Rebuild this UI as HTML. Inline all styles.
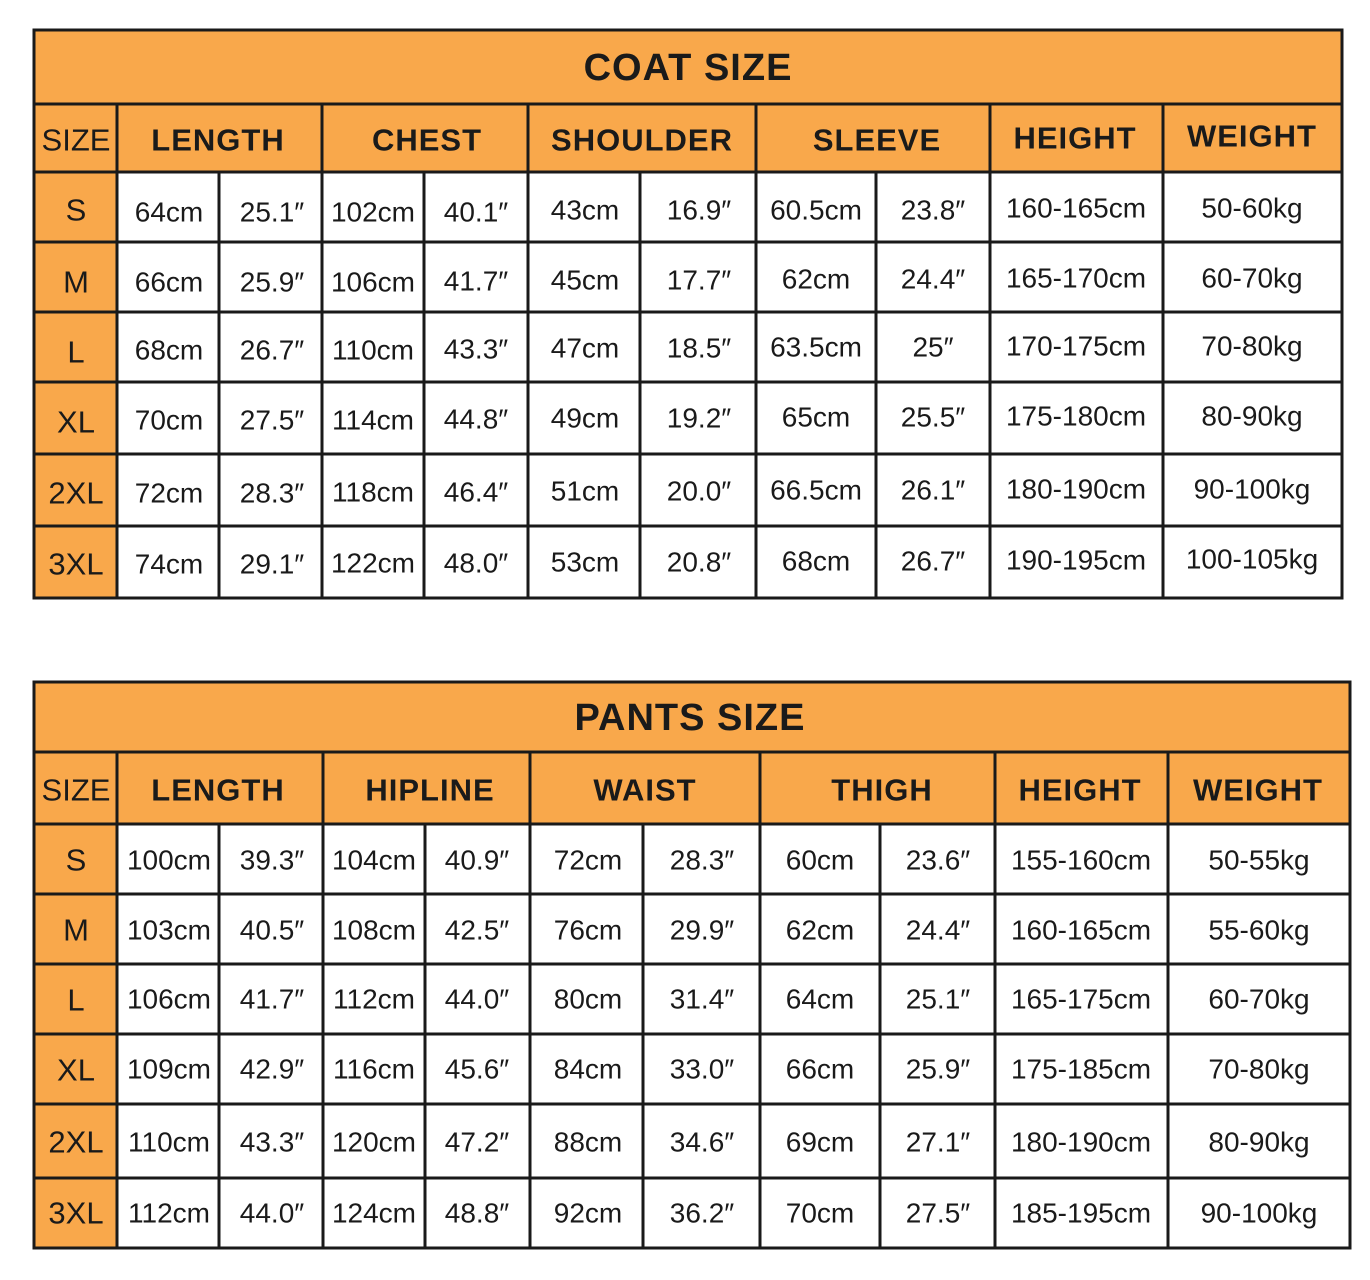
<!DOCTYPE html>
<html><head><meta charset="utf-8"><style>
html,body{margin:0;padding:0;background:#fff;}
svg{display:block}
text{font-family:"Liberation Sans",sans-serif;fill:#1a1a1a;text-anchor:middle;dominant-baseline:central}
.t{font-size:38px;font-weight:bold;letter-spacing:1px}
.h{font-size:31px;font-weight:bold;letter-spacing:1px}
.s{font-size:31px;font-weight:normal}
.d{font-size:28px}
</style></head><body>
<svg width="1370" height="1280" viewBox="0 0 1370 1280">
<g stroke="#1a1a1a" stroke-width="3">
<rect x="34" y="30" width="1308" height="568" fill="#fff"/>
<rect x="34" y="30" width="1308" height="142" fill="#f9a84b"/>
<rect x="34" y="172" width="83" height="426" fill="#f9a84b"/>
<line x1="34" y1="104" x2="1342" y2="104"/>
<line x1="34" y1="172" x2="1342" y2="172"/>
<line x1="34" y1="242" x2="1342" y2="242"/>
<line x1="34" y1="312" x2="1342" y2="312"/>
<line x1="34" y1="382" x2="1342" y2="382"/>
<line x1="34" y1="454" x2="1342" y2="454"/>
<line x1="34" y1="526" x2="1342" y2="526"/>
<line x1="117" y1="104" x2="117" y2="598"/>
<line x1="322" y1="104" x2="322" y2="598"/>
<line x1="528" y1="104" x2="528" y2="598"/>
<line x1="756" y1="104" x2="756" y2="598"/>
<line x1="990" y1="104" x2="990" y2="598"/>
<line x1="1163" y1="104" x2="1163" y2="598"/>
<line x1="219" y1="172" x2="219" y2="598"/>
<line x1="424" y1="172" x2="424" y2="598"/>
<line x1="640" y1="172" x2="640" y2="598"/>
<line x1="876" y1="172" x2="876" y2="598"/>
<rect x="34" y="682" width="1316" height="566" fill="#fff"/>
<rect x="34" y="682" width="1316" height="142" fill="#f9a84b"/>
<rect x="34" y="824" width="83" height="424" fill="#f9a84b"/>
<line x1="34" y1="752" x2="1350" y2="752"/>
<line x1="34" y1="824" x2="1350" y2="824"/>
<line x1="34" y1="894" x2="1350" y2="894"/>
<line x1="34" y1="964" x2="1350" y2="964"/>
<line x1="34" y1="1034" x2="1350" y2="1034"/>
<line x1="34" y1="1104" x2="1350" y2="1104"/>
<line x1="34" y1="1178" x2="1350" y2="1178"/>
<line x1="117" y1="752" x2="117" y2="1248"/>
<line x1="323" y1="752" x2="323" y2="1248"/>
<line x1="530" y1="752" x2="530" y2="1248"/>
<line x1="760" y1="752" x2="760" y2="1248"/>
<line x1="995" y1="752" x2="995" y2="1248"/>
<line x1="1168" y1="752" x2="1168" y2="1248"/>
<line x1="219" y1="824" x2="219" y2="1248"/>
<line x1="425" y1="824" x2="425" y2="1248"/>
<line x1="643" y1="824" x2="643" y2="1248"/>
<line x1="880" y1="824" x2="880" y2="1248"/>
</g>
<text class="t" x="688" y="68">COAT SIZE</text>
<text class="s" x="76" y="140">SIZE</text>
<text class="h" x="218" y="140">LENGTH</text>
<text class="h" x="427" y="140">CHEST</text>
<text class="h" x="642" y="140">SHOULDER</text>
<text class="h" x="877" y="140">SLEEVE</text>
<text class="h" x="1075" y="138">HEIGHT</text>
<text class="h" x="1252" y="136">WEIGHT</text>
<g>
<text class="s" x="76" y="210">S</text><text class="d" x="169" y="212">64cm</text><text class="d" x="272" y="212">25.1″</text><text class="d" x="373" y="212">102cm</text><text class="d" x="476" y="212">40.1″</text><text class="d" x="585" y="210">43cm</text><text class="d" x="699" y="210">16.9″</text><text class="d" x="816" y="210">60.5cm</text><text class="d" x="933" y="210">23.8″</text><text class="d" x="1076" y="208">160-165cm</text><text class="d" x="1252" y="208">50-60kg</text>
<text class="s" x="76" y="282">M</text><text class="d" x="169" y="282">66cm</text><text class="d" x="272" y="282">25.9″</text><text class="d" x="373" y="282">106cm</text><text class="d" x="476" y="281">41.7″</text><text class="d" x="585" y="280">45cm</text><text class="d" x="699" y="280">17.7″</text><text class="d" x="816" y="279">62cm</text><text class="d" x="933" y="279">24.4″</text><text class="d" x="1076" y="278">165-170cm</text><text class="d" x="1252" y="278">60-70kg</text>
<text class="s" x="76" y="352">L</text><text class="d" x="169" y="350">68cm</text><text class="d" x="272" y="350">26.7″</text><text class="d" x="373" y="350">110cm</text><text class="d" x="476" y="349">43.3″</text><text class="d" x="585" y="348">47cm</text><text class="d" x="699" y="348">18.5″</text><text class="d" x="816" y="347">63.5cm</text><text class="d" x="933" y="347">25″</text><text class="d" x="1076" y="346">170-175cm</text><text class="d" x="1252" y="346">70-80kg</text>
<text class="s" x="76" y="422">XL</text><text class="d" x="169" y="420">70cm</text><text class="d" x="272" y="420">27.5″</text><text class="d" x="373" y="420">114cm</text><text class="d" x="476" y="419">44.8″</text><text class="d" x="585" y="418">49cm</text><text class="d" x="699" y="418">19.2″</text><text class="d" x="816" y="417">65cm</text><text class="d" x="933" y="417">25.5″</text><text class="d" x="1076" y="416">175-180cm</text><text class="d" x="1252" y="416">80-90kg</text>
<text class="s" x="76" y="493">2XL</text><text class="d" x="169" y="493">72cm</text><text class="d" x="272" y="493">28.3″</text><text class="d" x="373" y="492">118cm</text><text class="d" x="476" y="492">46.4″</text><text class="d" x="585" y="491">51cm</text><text class="d" x="699" y="491">20.0″</text><text class="d" x="816" y="490">66.5cm</text><text class="d" x="933" y="490">26.1″</text><text class="d" x="1076" y="489">180-190cm</text><text class="d" x="1252" y="489">90-100kg</text>
<text class="s" x="76" y="564">3XL</text><text class="d" x="169" y="564">74cm</text><text class="d" x="272" y="564">29.1″</text><text class="d" x="373" y="563">122cm</text><text class="d" x="476" y="563">48.0″</text><text class="d" x="585" y="562">53cm</text><text class="d" x="699" y="562">20.8″</text><text class="d" x="816" y="561">68cm</text><text class="d" x="933" y="561">26.7″</text><text class="d" x="1076" y="560">190-195cm</text><text class="d" x="1252" y="559">100-105kg</text>
</g>
<text class="t" x="690" y="718">PANTS SIZE</text>
<text class="s" x="76" y="790">SIZE</text>
<text class="h" x="218" y="790">LENGTH</text>
<text class="h" x="430" y="790">HIPLINE</text>
<text class="h" x="645" y="790">WAIST</text>
<text class="h" x="882" y="790">THIGH</text>
<text class="h" x="1080" y="790">HEIGHT</text>
<text class="h" x="1258" y="790">WEIGHT</text>
<g>
<text class="s" x="76" y="860">S</text><text class="d" x="169" y="860">100cm</text><text class="d" x="272" y="860">39.3″</text><text class="d" x="374" y="860">104cm</text><text class="d" x="477" y="860">40.9″</text><text class="d" x="588" y="860">72cm</text><text class="d" x="702" y="860">28.3″</text><text class="d" x="820" y="860">60cm</text><text class="d" x="938" y="860">23.6″</text><text class="d" x="1081" y="860">155-160cm</text><text class="d" x="1259" y="860">50-55kg</text>
<text class="s" x="76" y="930">M</text><text class="d" x="169" y="930">103cm</text><text class="d" x="272" y="930">40.5″</text><text class="d" x="374" y="930">108cm</text><text class="d" x="477" y="930">42.5″</text><text class="d" x="588" y="930">76cm</text><text class="d" x="702" y="930">29.9″</text><text class="d" x="820" y="930">62cm</text><text class="d" x="938" y="930">24.4″</text><text class="d" x="1081" y="930">160-165cm</text><text class="d" x="1259" y="930">55-60kg</text>
<text class="s" x="76" y="1000">L</text><text class="d" x="169" y="999">106cm</text><text class="d" x="272" y="999">41.7″</text><text class="d" x="374" y="999">112cm</text><text class="d" x="477" y="999">44.0″</text><text class="d" x="588" y="999">80cm</text><text class="d" x="702" y="999">31.4″</text><text class="d" x="820" y="999">64cm</text><text class="d" x="938" y="999">25.1″</text><text class="d" x="1081" y="999">165-175cm</text><text class="d" x="1259" y="999">60-70kg</text>
<text class="s" x="76" y="1070">XL</text><text class="d" x="169" y="1069">109cm</text><text class="d" x="272" y="1069">42.9″</text><text class="d" x="374" y="1069">116cm</text><text class="d" x="477" y="1069">45.6″</text><text class="d" x="588" y="1069">84cm</text><text class="d" x="702" y="1069">33.0″</text><text class="d" x="820" y="1069">66cm</text><text class="d" x="938" y="1069">25.9″</text><text class="d" x="1081" y="1069">175-185cm</text><text class="d" x="1259" y="1069">70-80kg</text>
<text class="s" x="76" y="1142">2XL</text><text class="d" x="169" y="1142">110cm</text><text class="d" x="272" y="1142">43.3″</text><text class="d" x="374" y="1142">120cm</text><text class="d" x="477" y="1142">47.2″</text><text class="d" x="588" y="1142">88cm</text><text class="d" x="702" y="1142">34.6″</text><text class="d" x="820" y="1142">69cm</text><text class="d" x="938" y="1142">27.1″</text><text class="d" x="1081" y="1142">180-190cm</text><text class="d" x="1259" y="1142">80-90kg</text>
<text class="s" x="76" y="1213">3XL</text><text class="d" x="169" y="1213">112cm</text><text class="d" x="272" y="1213">44.0″</text><text class="d" x="374" y="1213">124cm</text><text class="d" x="477" y="1213">48.8″</text><text class="d" x="588" y="1213">92cm</text><text class="d" x="702" y="1213">36.2″</text><text class="d" x="820" y="1213">70cm</text><text class="d" x="938" y="1213">27.5″</text><text class="d" x="1081" y="1213">185-195cm</text><text class="d" x="1259" y="1213">90-100kg</text>
</g>
</svg>
</body></html>
